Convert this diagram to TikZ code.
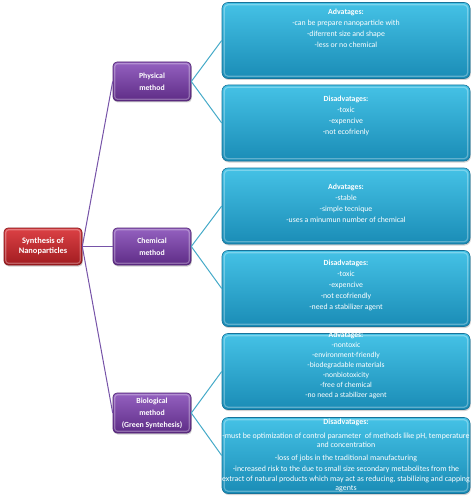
\documentclass[tikz,border=0pt]{standalone}
\usepackage{fontspec}
\setmainfont{Carlito}
\usetikzlibrary{shadows}
\definecolor{bluTop}{HTML}{45C2E6}
\definecolor{bluBot}{HTML}{1A8CB6}
\definecolor{bluEdge}{HTML}{17739A}
\definecolor{purTop}{HTML}{9461C0}
\definecolor{purBot}{HTML}{5E2C86}
\definecolor{purEdge}{HTML}{4E2370}
\definecolor{redTop}{HTML}{DC4145}
\definecolor{redBot}{HTML}{A11C20}
\definecolor{redEdge}{HTML}{7E1418}
\definecolor{purLine}{HTML}{7653A8}
\definecolor{bluLine}{HTML}{45AAC8}
\begin{document}
\begin{tikzpicture}[x=1pt,y=-1pt,
  box/.style={rectangle, rounded corners=6pt, draw=bluEdge, line width=0.6pt,
    top color=bluTop, bottom color=bluBot, minimum width=248pt, minimum height=76pt,
    drop shadow={opacity=0.35, shadow xshift=0.8pt, shadow yshift=-1.5pt}},
  meth/.style={rectangle, rounded corners=4pt, draw=purEdge, line width=0.6pt,
    top color=purTop, bottom color=purBot, minimum width=78pt, text=white,
    font=\bfseries\fontsize{7.8}{12}\selectfont, align=center,
    drop shadow={opacity=0.35, shadow xshift=0.8pt, shadow yshift=-1.5pt}},
  rootbox/.style={rectangle, rounded corners=4pt, draw=redEdge, line width=0.6pt,
    top color=redTop, bottom color=redBot, minimum width=78pt, minimum height=37pt,
    text=white, font=\bfseries\fontsize{8.4}{10}\selectfont, align=center,
    drop shadow={opacity=0.35, shadow xshift=0.8pt, shadow yshift=-1.5pt}},
  txt/.style={text=white, align=center, inner sep=0pt, font=\fontsize{7.8}{11}\selectfont},
  pline/.style={draw=purLine, line width=1pt},
  bline/.style={draw=bluLine, line width=1pt},
  hilite/.style={draw=white, opacity=0.3, line width=1.2pt}
]
\useasboundingbox (0,0) rectangle (474,500);

% blue boxes
\node[box] (b1) at (346,40.5) {};
\node[box] (b2) at (346,123) {};
\node[box] (b3) at (346,206) {};
\node[box] (b4) at (346,288.5) {};
\node[box] (b5) at (346,371.5) {};
\node[box] (b6) at (346,455.5) {};

% method boxes and root
\node[meth, minimum height=39pt] (phys) at (152,81.5) {Physical\\method};
\node[meth, minimum height=37pt] (chem) at (152,246.5) {Chemical\\method};
\node[meth, minimum height=40pt] (bio) at (152,413) {Biological\\method\\(Green Syntehesis)};
\node[rootbox] (root) at (43,246.5) {Synthesis of\\Nanoparticles};

% highlights
\foreach \n in {b1,b2,b3,b4,b5,b6}{
  \draw[hilite, rounded corners=4pt] ([shift={(2.5pt,2.5pt)}]\n.south west) rectangle ([shift={(-2.5pt,-2.5pt)}]\n.north east);
}
\foreach \n in {phys,chem,bio,root}{
  \draw[hilite, rounded corners=3pt] ([shift={(2pt,2pt)}]\n.south west) rectangle ([shift={(-2pt,-2pt)}]\n.north east);
}

% connectors
\draw[pline] (root.east) -- (phys.west);
\draw[pline] (root.east) -- (chem.west);
\draw[pline] (root.east) -- (bio.west);
\draw[bline] (phys.east) -- (b1.west);
\draw[bline] (phys.east) -- (b2.west);
\draw[bline] (chem.east) -- (b3.west);
\draw[bline] (chem.east) -- (b4.west);
\draw[bline] (bio.east) -- (b5.west);
\draw[bline] (bio.east) -- (b6.west);

% texts
\node[txt] (t1) at (346,28) {\textbf{Advatages:}\\-can be prepare nanoparticle with\\-diferrent size and shape\\-less or no chemical};
\node[txt] (t2) at (346,115.5) {\textbf{Disadvatages:}\\-toxic\\-expencive\\-not ecofrienly};
\node[txt] (t3) at (346,203) {\textbf{Advatages:}\\-stable\\-simple tecnique\\-uses a minumun number of chemical};
\node[txt] (t4) at (346,285.5) {\textbf{Disadvatages:}\\-toxic\\-expencive\\-not ecofriendly\\-need a stabilizer agent};
\node[txt, font=\fontsize{7.6}{10}\selectfont] (t5) at (346,365) {\textbf{Advatages:}\\-nontoxic\\-environment-friendly\\-biodegradable materials\\-nonbiotoxicity\\-free of chemical\\-no need a stabilizer agent};
\node[txt, font=\fontsize{7.9}{9}\selectfont] (t6) at (346,455) {\textbf{Disadvatages:}\\[5pt]-must be optimization of control parameter\ \ of methods like pH, temperature\\and concentration\\[4pt]-loss of jobs in the traditional manufacturing\\[2pt]-increased risk to the due to small size secondary metabolites from the\\[1pt]extract of natural products which may act as reducing, stabilizing and capping\\agents};
\end{tikzpicture}
\end{document}
